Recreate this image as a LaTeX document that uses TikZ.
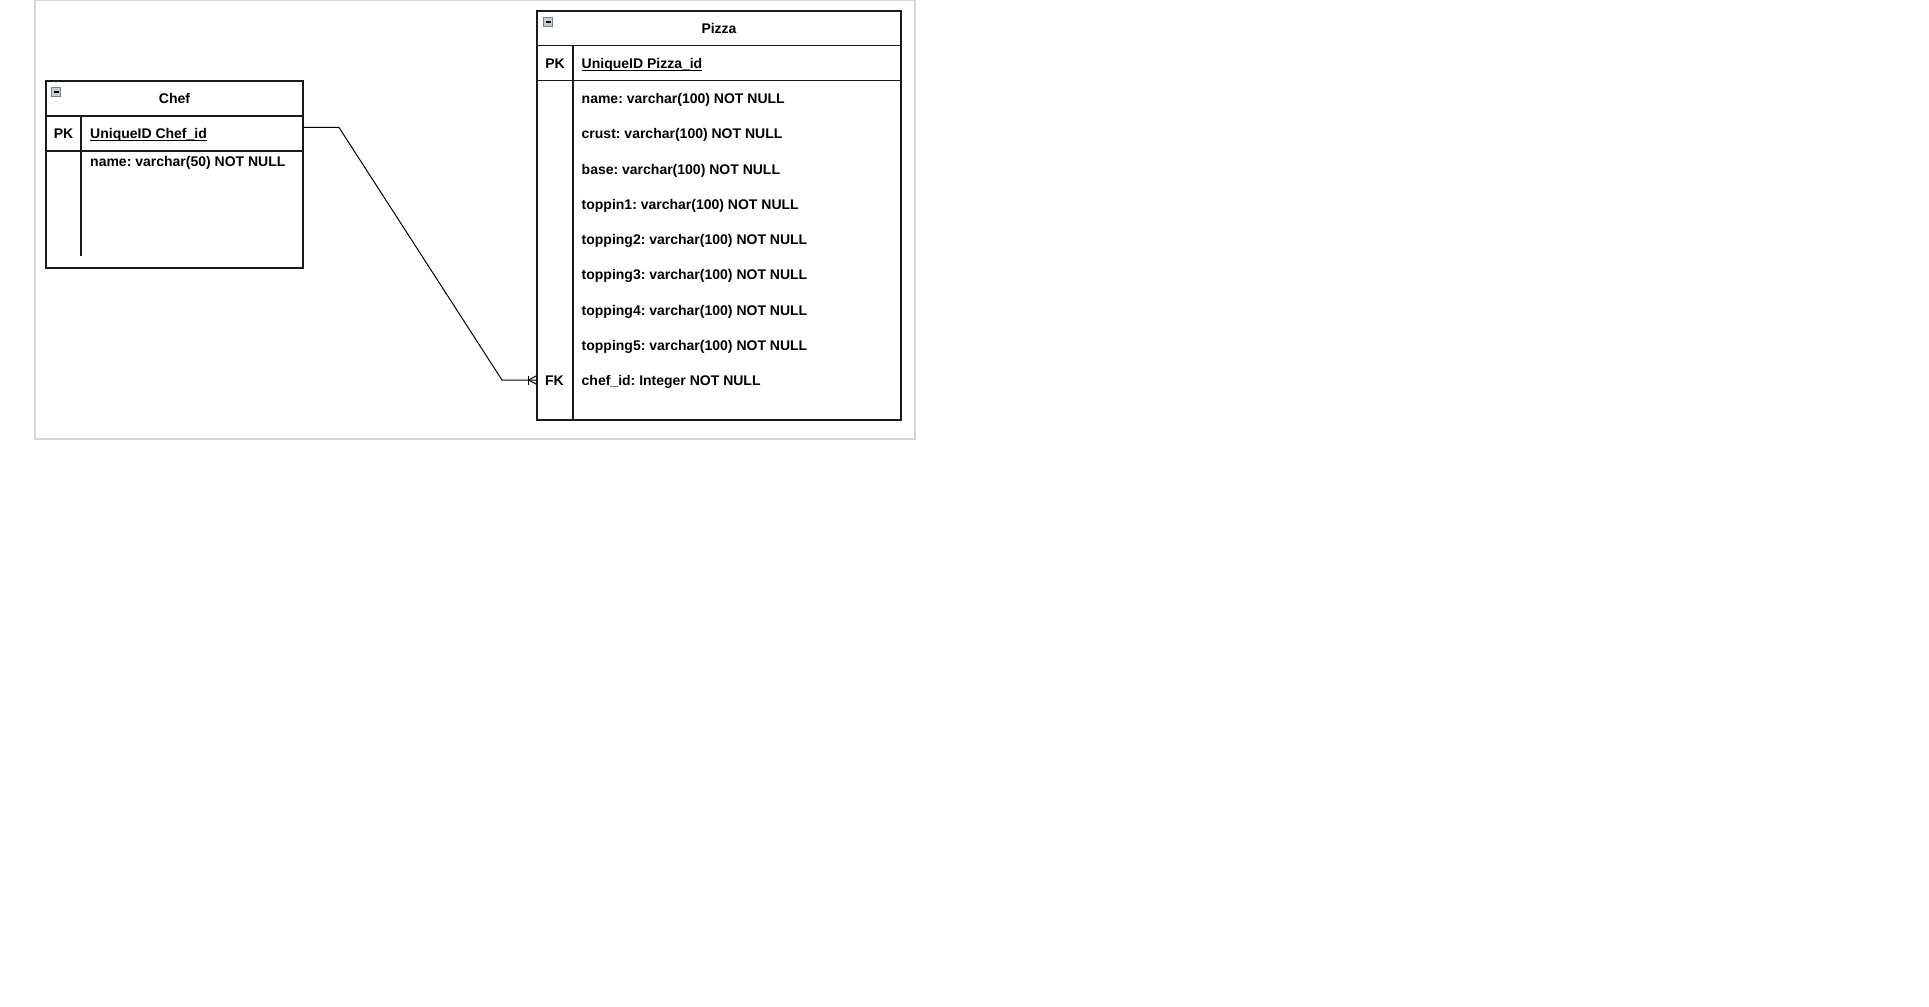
\documentclass[tikz,border=0pt]{standalone}
\usepackage{fontspec}
\setmainfont{Liberation Sans}
\frenchspacing
\definecolor{framegray}{HTML}{D6D6D6}
\definecolor{linegray}{HTML}{1A1A1A}
\definecolor{iconfill}{HTML}{C8CCD4}
\definecolor{iconedge}{HTML}{7A7F88}
\begin{document}
\frenchspacing
\begin{tikzpicture}[x=1pt,y=-1pt,
  font=\fontsize{14}{16}\selectfont\bfseries,
  frame/.style={draw=framegray,line width=1.5pt},
  tablebox/.style={draw=linegray,line width=1.3pt,rectangle,inner sep=0pt,outer sep=0pt,anchor=north west},
  sep/.style={draw=linegray,line width=1.3pt},
  conn/.style={draw=black,line width=1pt},
  uline/.style={draw=black,line width=1.1pt},
  lbl/.style={inner sep=0pt,anchor=base west},
  ttl/.style={inner sep=0pt,anchor=base},
  icon/.style={draw=iconedge,fill=iconfill,line width=0.8pt,minimum width=9pt,minimum height=9pt,inner sep=0pt}]
\useasboundingbox (0,0) rectangle (1929,1006);
\draw[frame] (35,0.75) rectangle (915,439);

% ---------- Chef table ----------
\node[tablebox,minimum width=257pt,minimum height=187pt] (chef) at (46,81) {};
\draw[sep] (46,116) -- (303,116);
\draw[sep] (46,151) -- (303,151);
\draw[sep] (81,116) -- (81,256);
\node[icon] (chefic) at (56,92) {};
\draw[line width=1.2pt] ([xshift=-2.5pt]chefic.center) -- ([xshift=2.5pt]chefic.center);
\node[ttl] (cheft) at (174.5,104) {Chef};
\node[ttl] (chefpk) at (63.5,139) {PK};
\node[lbl] (chefid) at (90,139) {UniqueID Chef\_id};
\draw[uline] ([yshift=-1.6pt]chefid.base west) -- ([yshift=-1.6pt]chefid.base east);
\node[lbl] (chefname) at (90,166.5) {name: varchar(50) NOT NULL};

% ---------- Pizza table ----------
\node[tablebox,minimum width=364pt,minimum height=409pt] (pizza) at (537,11) {};
\draw[sep] (537,45.5) -- (901,45.5);
\draw[sep] (537,80.5) -- (901,80.5);
\draw[sep] (573,45.5) -- (573,420);
\node[icon] (pizzaic) at (548,22) {};
\draw[line width=1.2pt] ([xshift=-2.5pt]pizzaic.center) -- ([xshift=2.5pt]pizzaic.center);
\node[ttl] (pizzat) at (719,33.5) {Pizza};
\node[ttl] (pizzapk) at (555,69) {PK};
\node[lbl] (pizzaid) at (581.5,69) {UniqueID Pizza\_id};
\draw[uline] ([yshift=-1.6pt]pizzaid.base west) -- ([yshift=-1.6pt]pizzaid.base east);
\node[lbl] (r0) at (581.5,103.8) {name: varchar(100) NOT NULL};
\node[lbl] (r1) at (581.5,139.0) {crust: varchar(100) NOT NULL};
\node[lbl] (r2) at (581.5,174.2) {base: varchar(100) NOT NULL};
\node[lbl] (r3) at (581.5,209.4) {toppin1: varchar(100) NOT NULL};
\node[lbl] (r4) at (581.5,244.6) {topping2: varchar(100) NOT NULL};
\node[lbl] (r5) at (581.5,279.8) {topping3: varchar(100) NOT NULL};
\node[lbl] (r6) at (581.5,315.0) {topping4: varchar(100) NOT NULL};
\node[lbl] (r7) at (581.5,350.2) {topping5: varchar(100) NOT NULL};
\node[lbl] (r8) at (581.5,385.4) {chef\_id: Integer NOT NULL};
\node[ttl] (fk) at (554.5,385.4) {FK};
\coordinate (fkport) at (537,380);

% ---------- Relationship ----------
\draw[conn] ([yshift=-46.5pt]chef.north east) -- ++(36,0) -- (502,380) -- (fkport);
\draw[conn] ([xshift=-9pt]fkport) ++(0,-4.5) -- ++(0,9);
\draw[conn] ([xshift=-8.5pt]fkport) -- ++(8.5,-4.5);
\draw[conn] ([xshift=-8.5pt]fkport) -- ++(8.5,4.5);
\end{tikzpicture}
\end{document}
